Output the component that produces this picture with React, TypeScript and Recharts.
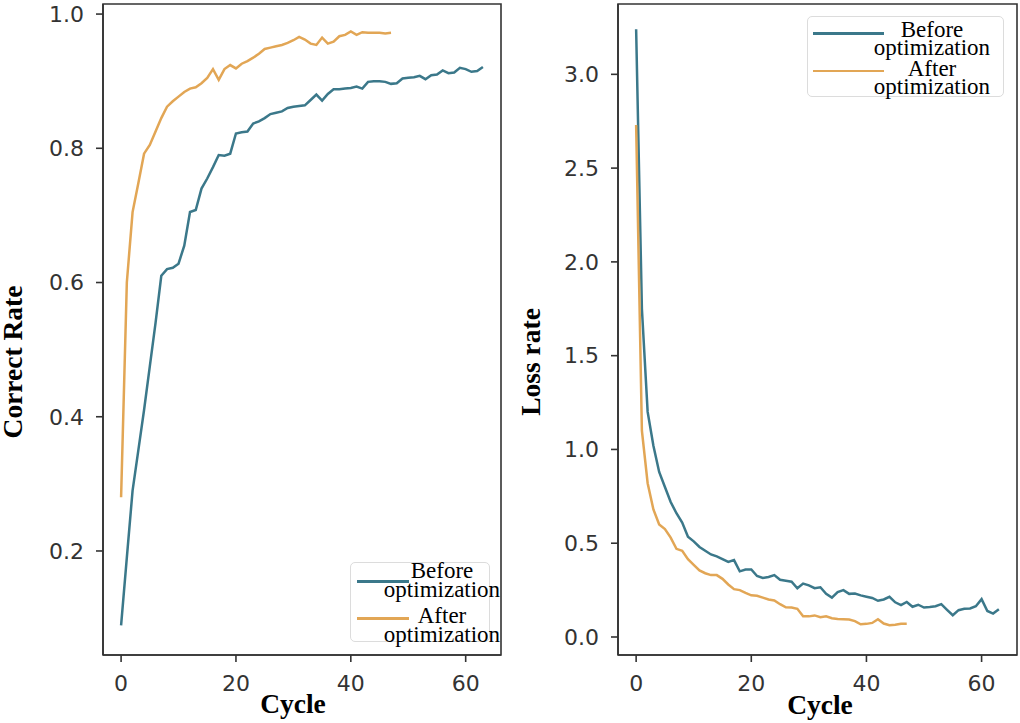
import React from 'react';
import { LineChart, Line, XAxis, YAxis, ReferenceArea, Legend } from 'recharts';

const cycles = [
  0, 1, 2, 3, 4, 5, 6, 7, 8, 9, 10, 11, 12, 13, 14, 15, 16, 17, 18, 19, 20, 21, 22, 23, 24, 25, 26, 27, 28, 29, 30, 31,
  32, 33, 34, 35, 36, 37, 38, 39, 40, 41, 42, 43, 44, 45, 46, 47, 48, 49, 50, 51, 52, 53, 54, 55, 56, 57, 58, 59, 60, 61, 62, 63,
];

const accBefore = [
  0.089, 0.19, 0.29, 0.35, 0.41, 0.475, 0.54, 0.61, 0.62, 0.622, 0.628, 0.655, 0.705, 0.708, 0.74, 0.755,
  0.772, 0.79, 0.789, 0.792, 0.822, 0.824, 0.825, 0.837, 0.84, 0.845, 0.851, 0.853, 0.855, 0.86, 0.862, 0.863,
  0.864, 0.872, 0.88, 0.871, 0.881, 0.888, 0.888, 0.889, 0.89, 0.892, 0.889, 0.899, 0.9, 0.9, 0.899, 0.896,
  0.897, 0.904, 0.905, 0.906, 0.908, 0.903, 0.909, 0.91, 0.916, 0.912, 0.913, 0.92, 0.918, 0.914, 0.915, 0.921,
];

const accAfter = [
  0.28, 0.6, 0.705, 0.748, 0.792, 0.805, 0.825, 0.845, 0.862, 0.87, 0.877, 0.884, 0.889, 0.891, 0.897, 0.905,
  0.918, 0.902, 0.918, 0.924, 0.919, 0.926, 0.93, 0.935, 0.941, 0.948, 0.95, 0.952, 0.954, 0.957, 0.961, 0.966,
  0.962, 0.956, 0.954, 0.965, 0.956, 0.959, 0.967, 0.969, 0.974, 0.969, 0.973, 0.972, 0.972, 0.972, 0.971, 0.972,
];

const lossBefore = [
  3.24, 1.75, 1.2, 1.02, 0.88, 0.8, 0.72, 0.66, 0.61, 0.535, 0.51, 0.48, 0.46, 0.44, 0.43, 0.415,
  0.4, 0.41, 0.35, 0.36, 0.36, 0.325, 0.315, 0.32, 0.33, 0.305, 0.3, 0.295, 0.26, 0.285, 0.275, 0.26,
  0.265, 0.23, 0.21, 0.24, 0.25, 0.23, 0.232, 0.222, 0.215, 0.208, 0.193, 0.2, 0.214, 0.185, 0.17, 0.187,
  0.161, 0.172, 0.157, 0.16, 0.164, 0.175, 0.145, 0.116, 0.143, 0.15, 0.152, 0.164, 0.202, 0.139, 0.125, 0.148,
];

const lossAfter = [
  2.73, 1.1, 0.82, 0.68, 0.6, 0.575, 0.53, 0.47, 0.46, 0.415, 0.385, 0.355, 0.34, 0.33, 0.33, 0.31,
  0.28, 0.255, 0.25, 0.235, 0.222, 0.22, 0.21, 0.2, 0.195, 0.175, 0.158, 0.157, 0.15, 0.11, 0.11, 0.115,
  0.105, 0.11, 0.1, 0.096, 0.095, 0.093, 0.085, 0.068, 0.07, 0.075, 0.095, 0.072, 0.063, 0.065, 0.07, 0.071,
];

const seriesNames = ['Before optimization', 'After optimization'];
const seriesColors = ['#3b788a', '#e2a655'];
const cycleTicks = [0, 20, 40, 60];
const accTicks = [0.2, 0.4, 0.6, 0.8, 1.0];
const lossTicks = [0, 0.5, 1.0, 1.5, 2.0, 2.5, 3.0];

const xDomain = [-3.15, 66.15];
const accDomain = [0.045, 1.015];
const lossDomain = [-0.096, 3.375];

const accData = cycles.map((c, i) => ({
  cycle: c,
  before: accBefore[i] ?? null,
  after: accAfter[i] ?? null,
}));
const lossData = cycles.map((c, i) => ({
  cycle: c,
  before: lossBefore[i] ?? null,
  after: lossAfter[i] ?? null,
}));

const tickStyle = { fill: '#333', fontSize: 22, fontFamily: '"DejaVu Sans", sans-serif' };
const axisStroke = { stroke: '#333', strokeWidth: 1.6 };
const serif = '"Liberation Serif", "Times New Roman", serif';

type LegendCfg = {
  w: number;
  h: number;
  lineX0: number;
  lineW: number;
  lineY: number[];
  textCx: number;
  textTop: number[];
};

function makeLegend(cfg: LegendCfg) {
  return (props: any) => {
    const payload = [...(props.payload || [])].sort(
      (a: any, b: any) => seriesNames.indexOf(String(a.value)) - seriesNames.indexOf(String(b.value)),
    );
    return (
      <div
        style={{
          position: 'relative',
          width: cfg.w,
          height: cfg.h,
          border: '1px solid #dcdcdc',
          borderRadius: 5,
          background: 'rgba(255,255,255,0.8)',
          boxSizing: 'border-box',
        }}
      >
        {payload.map((p: any, k: number) => {
          const words = String(p.value).split(' ');
          return (
            <React.Fragment key={k}>
              <div
                style={{
                  position: 'absolute',
                  left: cfg.lineX0,
                  width: cfg.lineW,
                  top: cfg.lineY[k] - 1.4,
                  height: 2.8,
                  background: p.color,
                }}
              />
              <div
                style={{
                  position: 'absolute',
                  left: cfg.textCx - 90,
                  width: 180,
                  top: cfg.textTop[k],
                  textAlign: 'center',
                  fontFamily: serif,
                  fontSize: 23,
                  lineHeight: '18.5px',
                  color: '#000',
                  whiteSpace: 'nowrap',
                }}
              >
                <div>{words[0]}</div>
                <div>{words.slice(1).join(' ')}</div>
              </div>
            </React.Fragment>
          );
        })}
      </div>
    );
  };
}

const leftLegend = makeLegend({
  w: 140,
  h: 80,
  lineX0: 6,
  lineW: 52,
  lineY: [18.5, 55.5],
  textCx: 91,
  textTop: [-1, 44],
});

const rightLegend = makeLegend({
  w: 197,
  h: 81,
  lineX0: 5,
  lineW: 71,
  lineY: [16.5, 54],
  textCx: 124,
  textTop: [3.5, 42.5],
});

const yLabel = (text: string, bx: number, cy: number) => () => (
  <text
    x={bx}
    y={cy}
    transform={`rotate(-90, ${bx}, ${cy})`}
    textAnchor="middle"
    fontFamily={serif}
    fontWeight="bold"
    fontSize={27.5}
    fill="#000"
  >
    {text}
  </text>
);

const xLabel = (text: string, cx: number, by: number) => () => (
  <text x={cx} y={by} textAnchor="middle" fontFamily={serif} fontWeight="bold" fontSize={27.5} fill="#000">
    {text}
  </text>
);

export default function App() {
  return (
    <div
      style={{
        position: 'absolute',
        left: 0,
        top: 0,
        width: 1020,
        height: 723,
        background: '#fff',
        overflow: 'hidden',
      }}
    >
      <div style={{ position: 'absolute', left: 0, top: 0 }}>
        <LineChart width={510} height={723} data={accData} margin={{ top: 4, right: 9, bottom: 28, left: 0 }}>
          <XAxis
            dataKey="cycle"
            type="number"
            domain={xDomain}
            ticks={cycleTicks}
            allowDataOverflow
            height={40}
            tick={tickStyle}
            tickSize={7}
            tickMargin={13}
            axisLine={axisStroke}
            tickLine={axisStroke}
            label={{ content: xLabel('Cycle', 293, 713) }}
          />
          <YAxis
            type="number"
            domain={accDomain}
            ticks={accTicks}
            allowDataOverflow
            width={103}
            tick={tickStyle}
            tickFormatter={(v: number) => v.toFixed(1)}
            tickSize={7}
            tickMargin={12}
            axisLine={axisStroke}
            tickLine={axisStroke}
            label={{ content: yLabel('Correct Rate', 21.5, 362) }}
          />
          <ReferenceArea
            x1={xDomain[0]}
            x2={xDomain[1]}
            y1={accDomain[0]}
            y2={accDomain[1]}
            fill="none"
            stroke="#333"
            strokeWidth={1.6}
            ifOverflow="visible"
          />
          <Line
            dataKey="before"
            name={seriesNames[0]}
            stroke={seriesColors[0]}
            strokeWidth={2.5}
            dot={false}
            isAnimationActive={false}
          />
          <Line
            dataKey="after"
            name={seriesNames[1]}
            stroke={seriesColors[1]}
            strokeWidth={2.5}
            dot={false}
            isAnimationActive={false}
          />
          <Legend
            layout="horizontal"
            verticalAlign="middle"
            align="center"
            content={leftLegend}
            wrapperStyle={{ left: 350, top: 562, width: 140, height: 80 }}
          />
        </LineChart>
      </div>
      <div style={{ position: 'absolute', left: 510, top: 0 }}>
        <LineChart width={510} height={723} data={lossData} margin={{ top: 4, right: 3, bottom: 28, left: 0 }}>
          <XAxis
            dataKey="cycle"
            type="number"
            domain={xDomain}
            ticks={cycleTicks}
            allowDataOverflow
            height={40}
            tick={tickStyle}
            tickSize={7}
            tickMargin={13}
            axisLine={axisStroke}
            tickLine={axisStroke}
            label={{ content: xLabel('Cycle', 310, 714) }}
          />
          <YAxis
            type="number"
            domain={lossDomain}
            ticks={lossTicks}
            allowDataOverflow
            width={108}
            tick={tickStyle}
            tickFormatter={(v: number) => v.toFixed(1)}
            tickSize={7}
            tickMargin={12}
            axisLine={axisStroke}
            tickLine={axisStroke}
            label={{ content: yLabel('Loss rate', 30, 362) }}
          />
          <ReferenceArea
            x1={xDomain[0]}
            x2={xDomain[1]}
            y1={lossDomain[0]}
            y2={lossDomain[1]}
            fill="none"
            stroke="#333"
            strokeWidth={1.6}
            ifOverflow="visible"
          />
          <Line
            dataKey="before"
            name={seriesNames[0]}
            stroke={seriesColors[0]}
            strokeWidth={2.5}
            dot={false}
            isAnimationActive={false}
          />
          <Line
            dataKey="after"
            name={seriesNames[1]}
            stroke={seriesColors[1]}
            strokeWidth={2.5}
            dot={false}
            isAnimationActive={false}
          />
          <Legend
            layout="horizontal"
            verticalAlign="middle"
            align="center"
            content={rightLegend}
            wrapperStyle={{ left: 297, top: 16, width: 197, height: 81 }}
          />
        </LineChart>
      </div>
    </div>
  );
}
